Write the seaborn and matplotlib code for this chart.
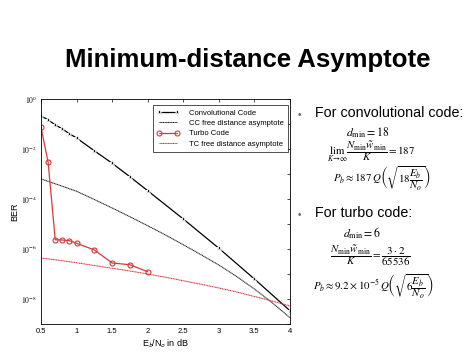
import numpy as np
import pandas as pd
import matplotlib
matplotlib.use("Agg")
import matplotlib.pyplot as plt
import matplotlib.font_manager as fm
import seaborn as sns
from matplotlib.ticker import FixedLocator, FuncFormatter, NullLocator

# --- data (BER as log10 values) ---
cc_ebno = [0.5, 0.6, 0.7, 0.8, 0.9, 1.0, 1.25, 1.5, 1.75, 2.0, 2.5, 3.0, 3.5, 4.0]
cc_log_ber = [-0.67, -0.84, -1.03, -1.20, -1.39, -1.56, -2.07, -2.57, -3.11, -3.67,
              -4.80, -5.97, -7.20, -8.47]

tc_ebno = [0.5, 0.6, 0.7, 0.8, 0.9, 1.0, 1.25, 1.5, 1.75, 2.0]
tc_log_ber = [-1.13, -2.53, -5.63, -5.64, -5.67, -5.77, -6.04, -6.56, -6.63, -6.91]

asym_ebno = [0.5, 0.75, 1.0, 1.25, 1.5, 1.75, 2.0, 2.25, 2.5, 2.75, 3.0, 3.25, 3.5, 3.75, 4.0]
cc_asym_log = [-3.20, -3.44, -3.69, -4.02, -4.36, -4.71, -5.07, -5.44, -5.83, -6.23,
               -6.64, -7.10, -7.60, -8.15, -8.75]
tc_asym_log = [-6.36, -6.45, -6.55, -6.66, -6.77, -6.88, -7.00, -7.13, -7.27, -7.41,
               -7.56, -7.72, -7.90, -8.08, -8.28]

x_ticks = [0.5, 1, 1.5, 2, 2.5, 3, 3.5, 4]
y_decades = list(range(0, -10, -1))

RED = "#d8393b"

sns.set_theme(style="white")
plt.rcParams["font.family"] = ["Liberation Sans", "DejaVu Sans"]
plt.rcParams["mathtext.fontset"] = "stix"
for key in ["text.color", "axes.labelcolor", "xtick.color", "ytick.color"]:
    plt.rcParams[key] = "black"

# narrow face for the slide title if one is installed
installed = {f.name for f in fm.fontManager.ttflist}
if "Liberation Sans Narrow" in installed:
    title_family, title_size = ["Liberation Sans Narrow", "DejaVu Sans"], 23
else:
    title_family, title_size = ["Liberation Sans", "DejaVu Sans"], 18.5

fig = plt.figure(figsize=(4.74, 3.55), dpi=100)
fig.patch.set_facecolor("white")
ax = fig.add_axes([41 / 474, 1 - 324 / 355, 249 / 474, 225 / 355])

cc = pd.DataFrame({"x": cc_ebno, "ber": 10.0 ** np.array(cc_log_ber)})
tc = pd.DataFrame({"x": tc_ebno, "ber": 10.0 ** np.array(tc_log_ber)})
asym = pd.DataFrame({"x": asym_ebno,
                     "cc": 10.0 ** np.array(cc_asym_log),
                     "tc": 10.0 ** np.array(tc_asym_log)})

sns.lineplot(data=cc, x="x", y="ber", ax=ax, color="black", lw=0.9,
             marker="*", markersize=5, markeredgewidth=0.6,
             label="Convolutional Code")
sns.lineplot(data=asym, x="x", y="cc", ax=ax, color="#222222", lw=0.75,
             linestyle=(0, (1.2, 0.4)), label="CC free distance asymptote")
sns.lineplot(data=tc, x="x", y="ber", ax=ax, color=RED, lw=0.9,
             marker="o", markersize=3.6, markerfacecolor="none",
             markeredgecolor=RED, markeredgewidth=0.8, label="Turbo Code")
sns.lineplot(data=asym, x="x", y="tc", ax=ax, color=RED, lw=0.75,
             linestyle=(0, (1.2, 0.4)), label="TC free distance asymptote")

ax.set_yscale("log")
ax.set_xlim(0.5, 4)
ax.set_ylim(1e-9, 1)
ax.xaxis.set_major_locator(FixedLocator(x_ticks))
ax.xaxis.set_major_formatter(FuncFormatter(lambda v, p: f"{v:g}"))
ax.yaxis.set_major_locator(FixedLocator([10.0 ** d for d in y_decades]))
ax.yaxis.set_minor_locator(NullLocator())
ax.yaxis.set_major_formatter(FuncFormatter(
    lambda v, p: r"$10^{%d}$" % round(np.log10(v)) if round(np.log10(v)) % 2 == 0 else ""))
ax.tick_params(direction="in", length=2.5, width=0.5, labelsize=5.5,
               top=True, right=True, pad=3, colors="black")
for s in ax.spines.values():
    s.set_color("black")
    s.set_linewidth(0.6)

ax.set_xlabel(r"E$_\mathsf{b}$/N$_\mathsf{o}$ in dB", fontsize=6.5, labelpad=2)
ax.set_ylabel("BER", fontsize=6.5, labelpad=1)

leg = ax.legend(loc="upper right", fontsize=5.5, frameon=True, fancybox=False,
                borderpad=0.55, handlelength=2.9, handletextpad=1.3,
                labelspacing=0.4, borderaxespad=0, numpoints=2,
                bbox_to_anchor=(247 / 249, 1 - 6 / 225))
leg.get_frame().set_edgecolor("black")
leg.get_frame().set_linewidth(0.6)

# slide title
fig.text(248 / 474, 1 - 67 / 355, "Minimum-distance Asymptote",
         ha="center", va="baseline", fontsize=title_size, fontweight="bold",
         family=title_family)

# right-hand bullet text
def px(x, y):
    return x / 474, 1 - y / 355

fig.text(*px(298, 115), "\u2022", fontsize=7, color="#666666", va="center")
fig.text(*px(315, 113), "For convolutional code:", fontsize=10.3, va="center")
fig.text(*px(368, 133), r"$d_{\min} = 18$", fontsize=8.5, ha="center", va="center")
fig.text(*px(371, 152), r"$\lim_{K\to\infty}\dfrac{N_{\min}\tilde{w}_{\min}}{K} = 187$",
         fontsize=7.8, ha="center", va="center")
fig.text(*px(333, 179), r"$P_b \approx 187\,Q\left(\sqrt{18\dfrac{E_b}{N_o}}\right)$",
         fontsize=7.8, ha="left", va="center")

fig.text(*px(298, 215), "\u2022", fontsize=7, color="#666666", va="center")
fig.text(*px(315, 213), "For turbo code:", fontsize=10.3, va="center")
fig.text(*px(362, 233), r"$d_{\min} = 6$", fontsize=8.5, ha="center", va="center")
fig.text(*px(370, 256), r"$\dfrac{N_{\min}\tilde{w}_{\min}}{K} = \dfrac{3\cdot 2}{65536}$",
         fontsize=7.8, ha="center", va="center")
fig.text(*px(313, 287), r"$P_b \approx 9.2\times10^{-5}\,Q\left(\sqrt{6\dfrac{E_b}{N_o}}\right)$",
         fontsize=7.8, ha="left", va="center")

fig.savefig("out.png", dpi=100, facecolor="white")
